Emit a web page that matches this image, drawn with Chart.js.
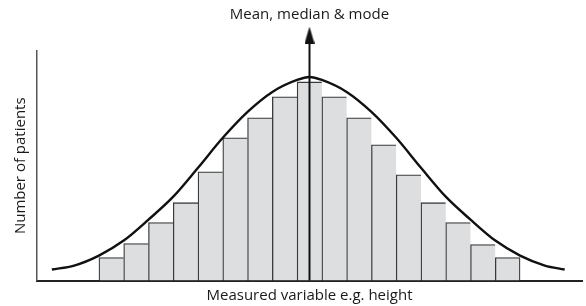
<!DOCTYPE html>
<html>
<head>
<meta charset="utf-8">
<script src="https://cdn.jsdelivr.net/npm/chart.js@4.4.1/dist/chart.umd.min.js"></script>
<style>
    html, body { margin: 0; padding: 0; background: #fff; overflow: hidden; }
    #wrap { width: 586px; height: 306px; position: relative; }
    #wrap canvas { display: block; }
</style>
</head>
<body>
<div id="wrap"><canvas id="normalChart"></canvas></div>
<script>
// histogram bins (bar centres) and counts
const bins = [1, 2, 3, 4, 5, 6, 7, 8, 9, 10, 11, 12, 13, 14, 15, 16, 17];
const patients = [2.3, 3.7, 5.8, 7.8, 10.9, 14.3, 16.3, 18.4, 19.9, 18.4, 16.3, 13.6, 10.6, 7.8, 5.8, 3.6, 2.3];

// bell curve
const curveX = [-1.4, -0.5, 0.5, 1.5, 2.5, 3.5, 4.5, 5.5, 6.5, 7.5, 8.5, 9, 9.5, 10.5, 11.5, 12.5, 13.5, 14.5, 15.5, 16.5, 17.5, 18.5, 19.3];
const curveY = [1.1, 1.5, 2.5, 4.0, 6.1, 8.4, 11.3, 14.3, 16.9, 18.9, 20.1, 20.4, 20.1, 18.9, 16.9, 14.3, 11.3, 8.4, 6.1, 4.0, 2.5, 1.5, 1.1];

// mean / median / mode marker
const meanX = 9;
const arrowY = [0, 24.6];

const xRange = [-2, 20];
const yRange = [0, 23];

Chart.defaults.font.family = "'Open Sans', sans-serif";
Chart.defaults.font.size = 15;
Chart.defaults.color = '#1a1a1a';

function makeArrowHead() {
    var c = document.createElement('canvas');
    c.width = 10;
    c.height = 17;
    var g = c.getContext('2d');
    g.fillStyle = '#111';
    g.beginPath();
    g.moveTo(5, 0);
    g.lineTo(10, 17);
    g.lineTo(0, 17);
    g.closePath();
    g.fill();
    return c;
}

const arrowHead = makeArrowHead();

const chartData = {
    datasets: [{
        type: 'line',
        order: 0,
        data: arrowY.map(function (y) { return { x: meanX, y: y }; }),
        borderColor: '#111',
        borderWidth: 2,
        pointStyle: arrowHead,
        pointRadius: [0, 20],
        clip: false
    }, {
        type: 'line',
        order: 1,
        data: curveX.map(function (x, i) { return { x: x, y: curveY[i] }; }),
        borderColor: '#111',
        borderWidth: 2.4,
        pointRadius: 0,
        cubicInterpolationMode: 'monotone',
        fill: false
    }, {
        type: 'bar',
        order: 2,
        data: bins.map(function (b, i) { return { x: b, y: patients[i] }; }),
        backgroundColor: '#dcdee0',
        borderColor: '#3a3a3a',
        borderSkipped: false,
        borderWidth: function (ctx) {
            var last = ctx.dataIndex === bins.length - 1;
            return { top: 1.3, left: 1.3, right: last ? 1.3 : 0, bottom: 0 };
        },
        categoryPercentage: 1,
        barPercentage: 1
    }]
};

const config = {
    type: 'bar',
    data: chartData,
    options: {
        responsive: true,
        maintainAspectRatio: false,
        animation: false,
        layout: { autoPadding: false, padding: { left: 0, right: 4, top: 0, bottom: 0 } },
        plugins: {
            legend: { display: false },
            tooltip: { enabled: false },
            title: {
                display: true,
                text: 'Mean, median & mode',
                fullSize: false,
                color: '#1a1a1a',
                font: { size: 15, weight: 'normal' },
                padding: { top: 6, bottom: 27 }
            }
        },
        scales: {
            x: {
                type: 'linear',
                min: xRange[0],
                max: xRange[1],
                offset: false,
                ticks: { display: false },
                grid: { display: false, drawTicks: false },
                border: { display: true, color: '#222', width: 2 },
                title: {
                    display: true,
                    text: 'Measured variable e.g. height',
                    padding: { top: 6.5, bottom: 1 }
                }
            },
            y: {
                min: yRange[0],
                max: yRange[1],
                ticks: { display: false },
                grid: { display: false, drawTicks: false },
                border: { display: true, color: '#555', width: 1.5 },
                title: {
                    display: true,
                    text: 'Number of patients',
                    padding: { top: 12, bottom: 7 }
                }
            }
        }
    }
};

const myChart = new Chart(document.getElementById('normalChart'), config);
</script>
</body>
</html>
